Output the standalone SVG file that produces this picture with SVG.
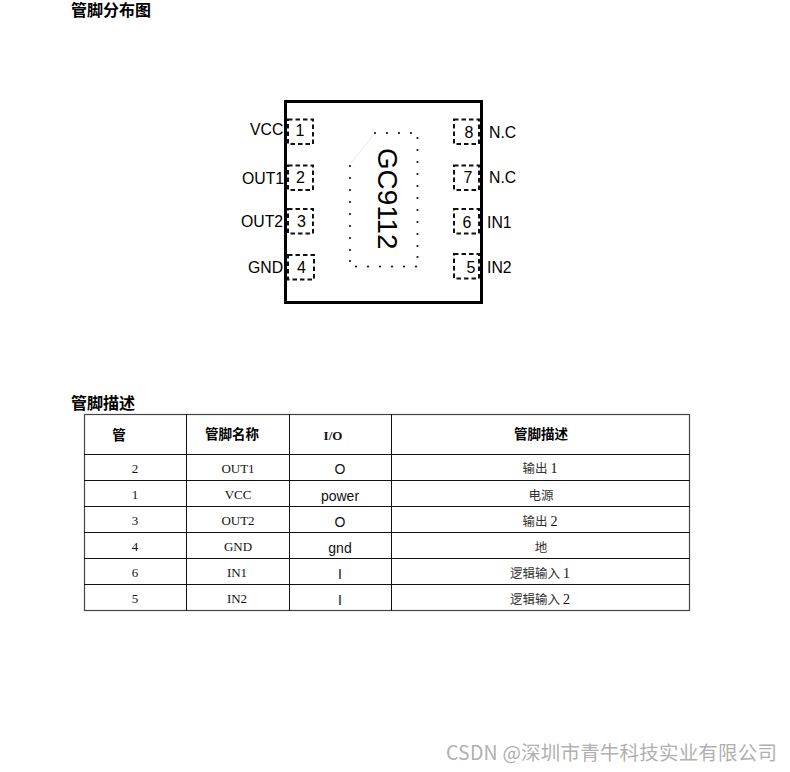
<svg xmlns="http://www.w3.org/2000/svg" width="790" height="772" viewBox="0 0 790 772">
<style>
.a{font-family:"Liberation Sans",Arial,sans-serif;fill:#000}
.v{font-family:"Liberation Sans",Arial,sans-serif;fill:#111;font-size:14px;text-anchor:middle}
.s{font-family:"Liberation Serif",serif;fill:#111;font-size:13px;text-anchor:middle}
.c{font-family:"Noto Sans CJK SC",sans-serif;fill:#333;font-size:12.500px;text-anchor:middle}
.c tspan{font-family:"Liberation Serif",serif;font-size:14px;fill:#111}
.h{font-family:"Noto Sans CJK SC",sans-serif;font-weight:700;fill:#000;font-size:13.500px;text-anchor:middle}
.t{font-family:"Liberation Sans","Noto Sans CJK SC",sans-serif;font-weight:700;fill:#000;font-size:16px}
.l{font-size:15.800px}
.n{font-size:16px;text-anchor:middle}
.p{fill:none;stroke:#111;stroke-width:2;stroke-dasharray:4.500 3}
.d{fill:#111}
.g{stroke:#111;stroke-width:1;fill:none}
</style>
<rect width="790" height="772" fill="#fff"/>
<text class="t" x="71" y="16">管脚分布图</text>
<text class="t" x="71" y="409">管脚描述</text>
<g id="chip">
<rect x="285.500" y="101.500" width="196" height="201" fill="#fff" stroke="#000" stroke-width="3"/>
<text class="a" font-size="27.800" transform="translate(378,148) rotate(90)">GC9112</text>
<path d="M351 163L375 133" stroke="#ddd" stroke-width=".7" fill="none"/>
<g class="d">
<circle cx="375" cy="133" r="1.100"/><circle cx="387" cy="133" r="1.100"/><circle cx="399" cy="133" r="1.100"/><circle cx="411" cy="133" r="1.100"/><circle cx="417.500" cy="138" r="1.100"/>
<circle cx="417.500" cy="150" r="1.100"/><circle cx="417.500" cy="162" r="1.100"/><circle cx="417.500" cy="174" r="1.100"/><circle cx="417.500" cy="186" r="1.100"/><circle cx="417.500" cy="198" r="1.100"/><circle cx="417.500" cy="210" r="1.100"/><circle cx="417.500" cy="222" r="1.100"/><circle cx="417.500" cy="234" r="1.100"/><circle cx="417.500" cy="246" r="1.100"/><circle cx="417.500" cy="257" r="1.100"/>
<circle cx="350" cy="166" r="1.100"/><circle cx="350" cy="178" r="1.100"/><circle cx="350" cy="190" r="1.100"/><circle cx="350" cy="202" r="1.100"/><circle cx="350" cy="214" r="1.100"/><circle cx="350" cy="226" r="1.100"/><circle cx="350" cy="238" r="1.100"/><circle cx="350" cy="250" r="1.100"/><circle cx="350" cy="261" r="1.100"/>
<circle cx="356" cy="266.500" r="1.100"/><circle cx="368" cy="266.500" r="1.100"/><circle cx="380" cy="266.500" r="1.100"/><circle cx="392" cy="266.500" r="1.100"/><circle cx="404" cy="266.500" r="1.100"/><circle cx="416" cy="266.500" r="1.100"/>
</g>
</g>
<g id="pin1"><rect class="p" x="288" y="119.500" width="25" height="24.500"/><text class="a n" x="300" y="136">1</text><text class="a l" x="250" y="135">VCC</text></g>
<g id="pin2"><rect class="p" x="288" y="165.500" width="25" height="24.500"/><text class="a n" x="300.500" y="183">2</text><text class="a l" x="242" y="184">OUT1</text></g>
<g id="pin3"><rect class="p" x="288" y="209" width="25" height="24.500"/><text class="a n" x="301.500" y="227">3</text><text class="a l" x="241" y="227">OUT2</text></g>
<g id="pin4"><rect class="p" x="288" y="255" width="26" height="24.500"/><text class="a n" x="301.500" y="273">4</text><text class="a l" x="248" y="273">GND</text></g>
<g id="pin8"><rect class="p" x="454" y="119.500" width="25" height="24.500"/><text class="a n" x="469" y="138">8</text><text class="a l" x="489" y="138">N.C</text></g>
<g id="pin7"><rect class="p" x="454" y="165.500" width="25" height="24.500"/><text class="a n" x="468" y="183">7</text><text class="a l" x="489" y="183">N.C</text></g>
<g id="pin6"><rect class="p" x="454" y="209" width="25" height="24.500"/><text class="a n" x="467" y="228">6</text><text class="a l" x="487" y="228">IN1</text></g>
<g id="pin5"><rect class="p" x="454" y="254" width="25" height="24.500"/><text class="a n" x="471" y="273">5</text><text class="a l" x="487" y="273">IN2</text></g>
<g id="table">
<rect x="84.500" y="414.500" width="605" height="196" fill="none" stroke="#444" stroke-width="1.200"/>
<path class="g" d="M186.500 414V611M289.500 414V611M391.500 414V611M84 454.500H690M84 480.500H690M84 506.500H690M84 532.500H690M84 558.500H690M84 584.500H690"/>
<text class="h" x="119" y="440">管</text><text class="h" x="232" y="439">管脚名称</text><text class="s" style="font-weight:700" x="333" y="440">I/O</text><text class="h" x="541" y="439">管脚描述</text>
<text class="s" x="135" y="473">2</text><text class="s" x="238" y="473">OUT1</text><text class="v" x="340" y="474">O</text><text class="c" x="540" y="473">输出 <tspan>1</tspan></text>
<text class="s" x="135" y="499">1</text><text class="s" x="238" y="499">VCC</text><text class="v" x="340" y="501">power</text><text class="c" x="541" y="500">电源</text>
<text class="s" x="135" y="525">3</text><text class="s" x="238" y="525">OUT2</text><text class="v" x="340" y="527">O</text><text class="c" x="540" y="526">输出 <tspan>2</tspan></text>
<text class="s" x="135" y="551">4</text><text class="s" x="238" y="551">GND</text><text class="v" x="340" y="553">gnd</text><text class="c" x="541" y="552">地</text>
<text class="s" x="135" y="577">6</text><text class="s" x="237" y="577">IN1</text><text class="v" x="340" y="579">I</text><text class="c" x="540" y="578">逻辑输入 <tspan>1</tspan></text>
<text class="s" x="135" y="603">5</text><text class="s" x="237" y="603">IN2</text><text class="v" x="340" y="605">I</text><text class="c" x="540" y="604">逻辑输入 <tspan>2</tspan></text>
</g>
<text x="446" y="760" font-family="'Noto Sans CJK SC',sans-serif" font-size="19.500" fill="#b0b0b0" textLength="331">CSDN @深圳市青牛科技实业有限公司</text>
</svg>
